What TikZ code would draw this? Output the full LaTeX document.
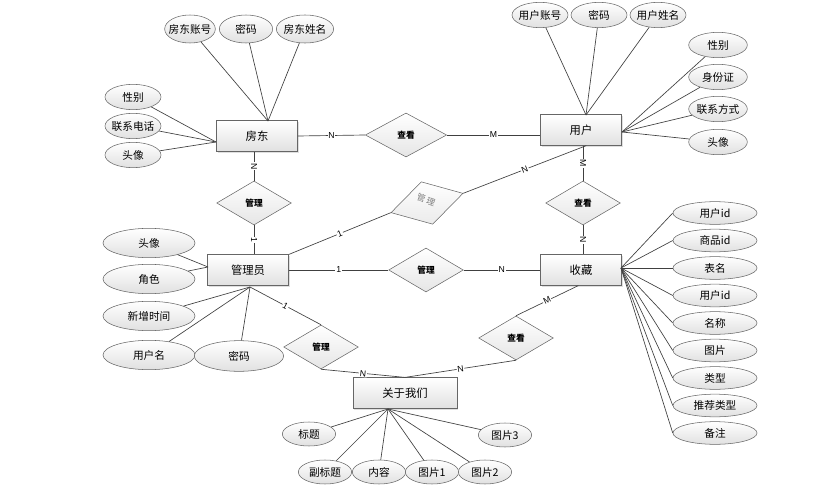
\documentclass[tikz,border=0pt]{standalone}
\usepackage{fontspec}
\setmainfont{Liberation Sans}
\newfontfamily\cjk{Noto Sans CJK SC}
\usetikzlibrary{shapes.geometric,shadows}
\newcommand{\mk}[1]{\makebox[0pt]{#1}}

\begin{document}
\begin{tikzpicture}[x=0.75pt, y=-0.75pt,
	ent/.style={draw=black!60, rectangle, minimum width=61pt, minimum height=23pt,
		top color=white, bottom color=black!12,
		drop shadow={opacity=0.25, shadow xshift=1pt, shadow yshift=-1pt},
		font=\cjk\fontsize{8.5}{10}\selectfont},
	dia/.style={draw=black!60, diamond, minimum width=56pt, minimum height=33pt, inner sep=0pt},
	rel/.style={dia, top color=white, bottom color=black!10, font=\cjk\bfseries\fontsize{6.5}{7}\selectfont},
	attr/.style={draw=black!60, ellipse, inner sep=0pt, minimum width=42pt, minimum height=19pt,
		top color=white, bottom color=black!12, font=\cjk\fontsize{8}{9}\selectfont},
	lnk/.style={draw=black!75, line width=0.5pt},
	card/.style={fill=white, inner sep=0.6pt, font=\fontsize{6.5}{7}\selectfont}]
	\useasboundingbox (0,0) rectangle (832,492);

	% Entidades
	\node[ent] (fd) at (257,136) {房东};
	\node[ent] (yh) at (581,130) {用户};
	\node[ent] (gly) at (248,270) {管理员};
	\node[ent] (sc) at (581,270) {收藏};
	\node[ent, minimum width=78pt] (gy) at (405,393) {关于我们};

	% Relacoes
	\node[rel, minimum width=61pt] (ck1) at (406,135) {查看};
	\node[rel] (gl1) at (254,203) {管理};
	\node[dia, rotate=15, top color=white, bottom color=black!8, text=black!50,
		font=\cjk\fontsize{6.5}{7}\selectfont] (gl2) at (427,203)
		{\smash{\mk{\rotatebox[origin=c]{-35}{管\,理}}}};
	\node[rel] (ck2) at (583,203) {查看};
	\node[rel] (gl3) at (426,270) {管理};
	\node[rel] (gl4) at (321,347) {管理};
	\node[rel] (ck3) at (516,338) {查看};

	% Atributos de 房东
	\coordinate (fdt) at (268,121);
	\coordinate (fdl) at (216,142);
	\node[attr, minimum width=38pt, minimum height=21pt] (fd1) at (190,29) {\mk{房东账号}};
	\node[attr, minimum width=40pt, minimum height=21pt] (fd2) at (246,29) {\mk{密码}};
	\node[attr, minimum width=43pt, minimum height=21pt] (fd3) at (305,29) {\mk{房东姓名}};
	\node[attr] (fd4) at (133,97) {\mk{性别}};
	\node[attr] (fd5) at (133,126) {\mk{联系电话}};
	\node[attr] (fd6) at (133,155) {\mk{头像}};
	\draw[lnk] (fd1) -- (fdt);
	\draw[lnk] (fd2) -- (fdt);
	\draw[lnk] (fd3) -- (fdt);
	\draw[lnk] (fd4) -- (fdl);
	\draw[lnk] (fd5) -- (fdl);
	\draw[lnk] (fd6) -- (fdl);

	% Atributos de 用户
	\coordinate (yht) at (586,115);
	\coordinate (yhr) at (622,132);
	\node[attr] (yh1) at (540,15) {\mk{用户账号}};
	\node[attr] (yh2) at (599,15) {\mk{密码}};
	\node[attr] (yh3) at (658,15) {\mk{用户姓名}};
	\node[attr, minimum width=44pt] (yh4) at (718,45) {\mk{性别}};
	\node[attr, minimum width=44pt] (yh5) at (718,77) {\mk{身份证}};
	\node[attr, minimum width=44pt] (yh6) at (718,109) {\mk{联系方式}};
	\node[attr, minimum width=44pt] (yh7) at (718,142) {\mk{头像}};
	\draw[lnk] (yh1) -- (yht);
	\draw[lnk] (yh2) -- (yht);
	\draw[lnk] (yh3) -- (yht);
	\draw[lnk] (yh4) -- (yhr);
	\draw[lnk] (yh5) -- (yhr);
	\draw[lnk] (yh6) -- (yhr);
	\draw[lnk] (yh7) -- (yhr);

	% Atributos de 管理员
	\coordinate (glyl) at (208,267);
	\coordinate (glyb) at (250,287);
	\node[attr, minimum width=69pt, minimum height=22pt] (gly1) at (149,243) {\mk{头像}};
	\node[attr, minimum width=69pt, minimum height=22pt] (gly2) at (149,279) {\mk{角色}};
	\node[attr, minimum width=69pt, minimum height=22pt] (gly3) at (149,316) {\mk{新增时间}};
	\node[attr, minimum width=69pt, minimum height=22pt] (gly4) at (149,355) {\mk{用户名}};
	\node[attr, minimum width=67pt, minimum height=23pt] (gly5) at (239,356) {\mk{密码}};
	\draw[lnk] (gly1) -- (glyl);
	\draw[lnk] (gly2) -- (glyl);
	\draw[lnk] (gly3) -- (glyb);
	\draw[lnk] (gly4) -- (glyb);
	\draw[lnk] (gly5) -- (glyb);

	% Atributos de 收藏
	\coordinate (scr) at (621,268);
	\foreach \t [count=\i] in {用户id,商品id,表名,用户id,名称,图片,类型,推荐类型,备注} {
		\node[attr, minimum width=63pt, minimum height=17pt] (sc\i) at (715,{185.5+27.5*\i}) {\mk{\t}};
		\draw[lnk] (sc\i.west) -- (scr);
	}

	% Atributos de 关于我们
	\coordinate (gyb) at (388,409);
	\node[attr, minimum width=40pt, minimum height=18pt] (gy1) at (309,434) {\mk{标题}};
	\node[attr, minimum width=40pt, minimum height=18pt] (gy2) at (505,435) {\mk{图片3}};
	\node[attr, minimum width=40pt, minimum height=18pt] (gy3) at (325,472) {\mk{副标题}};
	\node[attr, minimum width=40pt, minimum height=18pt] (gy4) at (379,472) {\mk{内容}};
	\node[attr, minimum width=40pt, minimum height=18pt] (gy5) at (432,472) {\mk{图片1}};
	\node[attr, minimum width=40pt, minimum height=18pt] (gy6) at (485,472) {\mk{图片2}};
	\draw[lnk] (gy1) -- (gyb);
	\draw[lnk] (gy2) -- (gyb);
	\draw[lnk] (gy3) -- (gyb);
	\draw[lnk] (gy4) -- (gyb);
	\draw[lnk] (gy5) -- (gyb);
	\draw[lnk] (gy6) -- (gyb);

	% Ligacoes com cardinalidade
	\draw[lnk] (fd.east) -- (ck1.west) node[card, midway] {N};
	\draw[lnk] (ck1.east) -- (ck1.east -| yh.west) node[card, midway] {M};
	\draw[lnk] (gl1.north |- fd.south) -- (gl1.north) node[card, midway, sloped] {N};
	\draw[lnk] (gl1.south) -- (gl1.south |- gly.north) node[card, midway, sloped] {1};
	\draw[lnk] (gly.north east) -- (gl2.west) node[card, midway, sloped] {1};
	\draw[lnk] (gl2.east) -- ([xshift=4pt]yh.south) node[card, midway, sloped] {N};
	\draw[lnk] (ck2.north |- yh.south) -- (ck2.north) node[card, midway, sloped] {M};
	\draw[lnk] (ck2.south) -- (ck2.south |- sc.north) node[card, midway, sloped] {N};
	\draw[lnk] (gly.east) -- (gl3.west) node[card, midway] {1};
	\draw[lnk] (gl3.east) -- (sc.west) node[card, midway] {N};
	\draw[lnk] (glyb) -- (gl4.north) node[card, midway, sloped] {1};
	\draw[lnk] (gl4.south) -- (gy.north) node[card, midway, sloped] {N};
	\draw[lnk] (ck3.south) -- (gy.north) node[card, midway, sloped] {N};
	\draw[lnk] ([xshift=-2pt]sc.south) -- (ck3.north) node[card, midway, sloped] {M};
\end{tikzpicture}
\end{document}
